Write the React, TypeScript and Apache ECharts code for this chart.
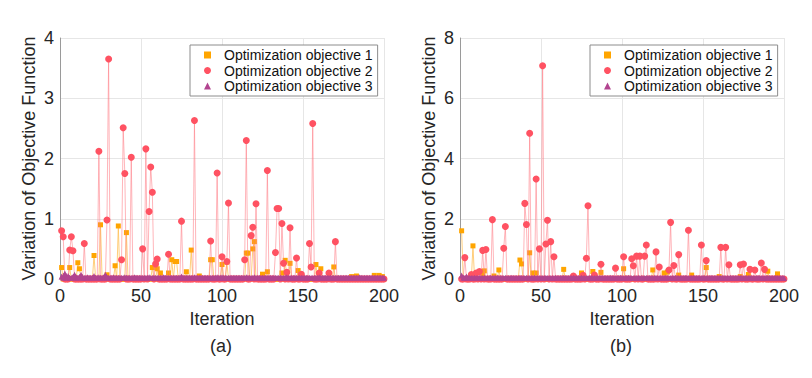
import React, { useEffect, useRef } from "react";
import * as echarts from "echarts";

const iterations: number[] = Array.from({ length: 200 }, (_, i) => i + 1);
const seriesNames = ["Optimization objective 1", "Optimization objective 2", "Optimization objective 3"];
const xTicks = [0, 50, 100, 150, 200];
const panelLabels = ["(a)", "(b)"];
const yMaxA = 4;
const yMaxB = 8;

// Panel (a)
const aObj1 = [
  0.19, 0, 0, 0, 0, 0.19, 0, 0, 0, 0,
  0.27, 0.17, 0, 0, 0, 0, 0, 0, 0, 0,
  0.39, 0, 0, 0, 0.90, 0, 0, 0, 0.07, 0,
  0, 0, 0, 0.22, 0, 0.88, 0, 0, 0, 0,
  0.77, 0, 0, 0, 0, 0, 0, 0, 0, 0,
  0, 0, 0, 0, 0, 0, 0.19, 0, 0, 0.17,
  0, 0.10, 0, 0, 0, 0, 0.10, 0, 0.32, 0,
  0.29, 0.29, 0, 0, 0, 0, 0, 0.12, 0, 0,
  0.48, 0, 0, 0, 0, 0.05, 0, 0, 0, 0,
  0, 0, 0.32, 0.32, 0, 0, 0, 0, 0, 0.24,
  0, 0, 0.28, 0, 0, 0, 0, 0, 0, 0,
  0, 0, 0, 0, 0.43, 0.43, 0, 0, 0.50, 0.62,
  0, 0, 0, 0, 0.08, 0, 0, 0.12, 0, 0,
  0, 0, 0, 0, 0, 0, 0.10, 0, 0.31, 0,
  0, 0.26, 0, 0, 0, 0, 0.14, 0, 0, 0,
  0, 0, 0, 0, 0, 0, 0, 0.24, 0, 0,
  0.17, 0, 0, 0, 0, 0, 0, 0, 0.20, 0,
  0, 0, 0, 0, 0, 0, 0, 0, 0, 0.04,
  0, 0, 0.05, 0, 0, 0, 0, 0, 0, 0,
  0, 0, 0, 0.06, 0, 0, 0.06, 0, 0.04, 0,
];
const aObj2 = [
  0.80, 0.70, 0, 0, 0, 0.48, 0.70, 0.47, 0, 0,
  0, 0, 0, 0, 0.59, 0, 0, 0, 0, 0,
  0, 0, 0, 2.12, 0, 0, 0, 0, 0.98, 3.65,
  0, 0, 0, 0, 0, 0, 0, 0.32, 2.51, 1.75,
  0, 0, 0, 2.02, 0, 0, 0, 0, 0, 0,
  0.50, 0, 2.16, 0, 1.12, 1.86, 1.44, 0, 0.25, 0.33,
  0, 0, 0, 0, 0, 0, 0.41, 0, 0, 0,
  0, 0, 0, 0, 0.96, 0, 0, 0, 0, 0,
  0, 0, 2.63, 0, 0, 0, 0, 0, 0, 0,
  0, 0, 0.63, 0, 0, 0, 1.76, 0, 0, 0.37,
  0, 0, 0.29, 1.26, 0, 0, 0, 0, 0, 0,
  0, 0, 0, 0.32, 2.30, 0, 0, 0.72, 0.86, 0,
  1.25, 0, 0, 0, 0, 0, 0, 1.80, 0, 0,
  0, 0, 0.44, 1.17, 1.17, 0, 0.92, 0.26, 0, 0.11,
  0, 0.85, 0, 0, 0, 0.35, 0, 0, 0.08, 0,
  0, 0, 0, 0.59, 0.20, 2.58, 0, 0, 0, 0.10,
  0, 0, 0, 0, 0, 0.10, 0, 0, 0, 0.62,
  0, 0, 0, 0, 0, 0, 0, 0, 0, 0,
  0, 0, 0, 0, 0, 0, 0, 0, 0, 0,
  0, 0, 0, 0, 0, 0, 0, 0, 0, 0,
];
const aObj3 = [
  0.04, 0.02, 0.09, 0.02, 0.05, 0.02, 0.02, 0.03, 0.07, 0.02,
  0.02, 0.03, 0.07, 0.02, 0.02, 0.02, 0.03, 0.02, 0.02, 0.02,
  0.05, 0.02, 0.02, 0.03, 0.02, 0.02, 0.02, 0.07, 0.02, 0.02,
  0.02, 0.02, 0.03, 0.02, 0.02, 0.02, 0.02, 0.02, 0.02, 0.03,
  0.02, 0.02, 0.02, 0.02, 0.02, 0.03, 0.02, 0.02, 0.02, 0.02,
  0.02, 0.02, 0.02, 0.02, 0.03, 0.02, 0.02, 0.02, 0.02, 0.02,
  0.02, 0.02, 0.02, 0.03, 0.02, 0.02, 0.02, 0.02, 0.02, 0.02,
  0.02, 0.02, 0.02, 0.02, 0.04, 0.02, 0.02, 0.02, 0.02, 0.02,
  0.02, 0.02, 0.03, 0.02, 0.02, 0.02, 0.02, 0.02, 0.02, 0.02,
  0.02, 0.02, 0.02, 0.02, 0.02, 0.02, 0.03, 0.02, 0.02, 0.03,
  0.02, 0.02, 0.02, 0.02, 0.02, 0.02, 0.02, 0.02, 0.02, 0.02,
  0.02, 0.02, 0.02, 0.02, 0.03, 0.02, 0.02, 0.02, 0.02, 0.03,
  0.02, 0.02, 0.02, 0.02, 0.02, 0.02, 0.02, 0.02, 0.02, 0.02,
  0.02, 0.02, 0.02, 0.02, 0.02, 0.02, 0.02, 0.02, 0.02, 0.03,
  0.02, 0.02, 0.02, 0.02, 0.02, 0.02, 0.02, 0.02, 0.02, 0.02,
  0.02, 0.02, 0.02, 0.02, 0.02, 0.02, 0.02, 0.02, 0.02, 0.03,
  0.02, 0.02, 0.02, 0.02, 0.02, 0.02, 0.02, 0.02, 0.02, 0.02,
  0.02, 0.02, 0.02, 0.02, 0.02, 0.02, 0.02, 0.02, 0.02, 0.02,
  0.02, 0.02, 0.02, 0.02, 0.03, 0.02, 0.02, 0.02, 0.02, 0.02,
  0.02, 0.02, 0.02, 0.02, 0.02, 0.02, 0.02, 0.02, 0.02, 0.02,
];

// Panel (b)
const bObj1 = [
  1.60, 0, 0, 0, 0, 0, 0, 1.10, 0, 0,
  0, 0, 0, 0.18, 0.27, 0, 0, 0, 0, 0,
  0.10, 0, 0, 0.30, 0, 0, 0, 0, 0, 0,
  0, 0, 0, 0, 0, 0, 0.63, 0.50, 0, 0,
  0, 0, 0.87, 0, 0.20, 0, 0.20, 0, 0, 0,
  0, 0, 0, 0, 0, 0, 0, 0, 0, 0,
  0, 0, 0, 0.32, 0, 0, 0, 0, 0, 0,
  0, 0, 0, 0, 0.20, 0, 0, 0, 0, 0,
  0, 0.25, 0, 0, 0, 0, 0.22, 0, 0, 0,
  0, 0, 0, 0, 0, 0, 0, 0, 0, 0,
  0.34, 0, 0, 0, 0, 0, 0, 0, 0, 0,
  0, 0, 0, 0, 0, 0, 0, 0, 0.30, 0,
  0, 0, 0, 0, 0, 0.20, 0, 0.23, 0, 0,
  0, 0, 0, 0, 0.13, 0, 0, 0, 0, 0,
  0, 0, 0.13, 0, 0, 0, 0, 0, 0, 0,
  0, 0.38, 0, 0, 0, 0, 0, 0, 0, 0.08,
  0, 0, 0, 0, 0, 0, 0, 0, 0, 0,
  0, 0, 0.08, 0, 0, 0, 0, 0.15, 0, 0,
  0, 0, 0, 0, 0, 0, 0, 0, 0, 0.26,
  0, 0, 0, 0, 0, 0.17, 0, 0, 0, 0,
];
const bObj2 = [
  0, 0, 0.71, 0, 0, 0, 0.15, 0, 0, 0.20,
  0, 0.25, 0, 0.95, 0, 0.98, 0, 0, 0, 1.97,
  0, 0, 0, 0, 0, 0, 1.02, 1.74, 0, 0,
  0, 0, 0, 0, 0, 0, 0, 0, 0, 2.51,
  1.81, 0, 4.84, 0, 0, 0, 3.32, 0, 1.00, 0,
  7.08, 0, 1.16, 1.95, 0, 1.24, 0, 0.74, 0, 0,
  0, 0, 0, 0, 0, 0, 0, 0, 0, 0.10,
  0, 0, 0, 0, 0, 0.12, 0, 0.69, 2.43, 0,
  0, 0, 0.13, 0, 0, 0, 0.49, 0, 0, 0,
  0, 0, 0, 0, 0, 0.36, 0, 0, 0, 0,
  0.74, 0, 0, 0, 0, 0.67, 0.44, 0, 0.76, 0,
  0.76, 0, 0, 0.76, 1.13, 0, 0, 0, 0, 0,
  0.90, 0, 0.40, 0, 0, 0, 0, 0, 0.30, 1.88,
  0, 0.45, 0, 0, 0.81, 0, 0, 0, 0, 0,
  1.62, 0, 0, 0, 0, 0, 0, 0, 1.13, 0,
  0, 0.61, 0, 0, 0, 0, 0, 0, 0, 0,
  1.05, 0, 0, 1.05, 0, 0.47, 0, 0, 0, 0,
  0, 0, 0.47, 0, 0.50, 0, 0, 0, 0.32, 0,
  0, 0.30, 0, 0, 0, 0.53, 0, 0.32, 0, 0,
  0, 0, 0, 0, 0, 0, 0, 0, 0, 0,
];
const bObj3 = [
  0.12, 0.04, 0.03, 0.08, 0.03, 0.04, 0.03, 0.03, 0.04, 0.03,
  0.03, 0.04, 0.03, 0.03, 0.04, 0.03, 0.03, 0.03, 0.04, 0.03,
  0.03, 0.03, 0.04, 0.03, 0.03, 0.03, 0.03, 0.04, 0.03, 0.03,
  0.03, 0.04, 0.03, 0.03, 0.03, 0.03, 0.04, 0.03, 0.03, 0.03,
  0.04, 0.03, 0.03, 0.03, 0.03, 0.04, 0.03, 0.03, 0.03, 0.03,
  0.03, 0.03, 0.04, 0.03, 0.03, 0.03, 0.03, 0.03, 0.04, 0.03,
  0.03, 0.03, 0.03, 0.04, 0.03, 0.03, 0.03, 0.03, 0.03, 0.04,
  0.03, 0.03, 0.03, 0.03, 0.04, 0.03, 0.03, 0.03, 0.03, 0.03,
  0.04, 0.03, 0.03, 0.03, 0.03, 0.03, 0.04, 0.03, 0.03, 0.03,
  0.03, 0.03, 0.04, 0.03, 0.03, 0.03, 0.03, 0.03, 0.04, 0.03,
  0.03, 0.03, 0.03, 0.04, 0.03, 0.03, 0.03, 0.03, 0.03, 0.04,
  0.03, 0.03, 0.03, 0.03, 0.04, 0.03, 0.03, 0.03, 0.03, 0.03,
  0.04, 0.03, 0.03, 0.03, 0.03, 0.03, 0.04, 0.03, 0.03, 0.03,
  0.03, 0.03, 0.04, 0.03, 0.03, 0.03, 0.03, 0.03, 0.04, 0.03,
  0.03, 0.03, 0.03, 0.04, 0.03, 0.03, 0.03, 0.03, 0.03, 0.04,
  0.03, 0.03, 0.03, 0.03, 0.04, 0.03, 0.03, 0.03, 0.03, 0.03,
  0.04, 0.03, 0.03, 0.03, 0.03, 0.03, 0.04, 0.03, 0.03, 0.03,
  0.03, 0.03, 0.04, 0.03, 0.03, 0.03, 0.03, 0.03, 0.04, 0.03,
  0.03, 0.03, 0.03, 0.04, 0.03, 0.03, 0.03, 0.03, 0.03, 0.04,
  0.03, 0.03, 0.03, 0.03, 0.04, 0.03, 0.03, 0.03, 0.03, 0.03,
];

const FONT = "'Liberation Sans', Arial, Helvetica, sans-serif";
const TEXT = "#262626";
const markerColors = ["#FFA500", "#FF5262", "#B2448F"];
const lineColors = ["rgba(255,190,80,0.75)", "rgba(255,120,130,0.55)", "#B2448F"];
const lineWidths = [1, 1, 3];
const symbols = ["rect", "circle", "triangle"];
const symbolSizes = [5, 7, 6];

function pairs(vals: number[]) {
  return iterations.map((it, i) => [it, vals[i]]);
}

export default function App() {
  const ref = useRef<HTMLDivElement>(null);
  useEffect(() => {
    if (!ref.current) return;
    const chart = echarts.init(ref.current, undefined, { renderer: "svg" });
    const panels = [
      { data: [aObj1, aObj2, aObj3], yMax: yMaxA, yInt: 1, left: 60 },
      { data: [bObj1, bObj2, bObj3], yMax: yMaxB, yInt: 2, left: 460 },
    ];
    const grid = panels.map((p) => ({ left: p.left, width: 324, top: 38, height: 241 }));
    const xAxis = panels.map((_, gi) => ({
      type: "value",
      gridIndex: gi,
      min: xTicks[0],
      max: xTicks[xTicks.length - 1],
      interval: 50,
      name: "Iteration",
      nameLocation: "middle",
      nameGap: 30,
      nameTextStyle: { fontFamily: FONT, fontSize: 18, color: TEXT },
      axisLine: { show: true, lineStyle: { color: "#9a9a9a", width: 1 } },
      axisTick: { show: false },
      axisLabel: { fontFamily: FONT, fontSize: 18, color: TEXT, margin: 8 },
      splitLine: { show: true, lineStyle: { color: "#e6e6e6", width: 1 } },
    }));
    const yAxis = panels.map((p, gi) => ({
      type: "value",
      gridIndex: gi,
      min: 0,
      max: p.yMax,
      interval: p.yInt,
      name: "Variation of Objective Function",
      nameLocation: "middle",
      nameGap: 22,
      nameTextStyle: { fontFamily: FONT, fontSize: 18, color: TEXT },
      axisLine: { show: true, lineStyle: { color: "#9a9a9a", width: 1 } },
      axisTick: { show: false },
      axisLabel: { fontFamily: FONT, fontSize: 18, color: TEXT, margin: 6 },
      splitLine: { show: true, lineStyle: { color: "#e6e6e6", width: 1 } },
    }));
    const series: any[] = [];
    panels.forEach((p, gi) => {
      p.data.forEach((vals, si) => {
        series.push({
          type: "line",
          name: seriesNames[si],
          xAxisIndex: gi,
          yAxisIndex: gi,
          data: pairs(vals),
          symbol: symbols[si],
          symbolSize: symbolSizes[si],
          showSymbol: true,
          showAllSymbol: true,
          itemStyle: { color: markerColors[si] },
          lineStyle: { color: lineColors[si], width: lineWidths[si] },
          emphasis: { disabled: true },
          z: 2 + si,
        });
      });
    });
    const legend = panels.map((p) => ({
      orient: "vertical",
      left: p.left + 130,
      top: 45,
      padding: [3, 5, 3, 14],
      itemGap: 1.5,
      itemWidth: 7,
      itemHeight: 7,
      borderColor: "#8c8c8c",
      borderWidth: 1,
      backgroundColor: "#ffffff",
      selectedMode: false,
      textStyle: { fontFamily: FONT, fontSize: 14, color: "#111", padding: [0, 0, 0, 8] },
      data: seriesNames.map((n, i) => ({ name: n, icon: symbols[i], itemStyle: { color: markerColors[i] } })),
    }));
    const graphic = panelLabels.map((t, i) => ({
      type: "text",
      left: panels[i].left + 162 - 12,
      top: 337,
      style: { text: t, fontFamily: FONT, fontSize: 18, fill: TEXT },
    }));
    chart.setOption({
      animation: false,
      backgroundColor: "#ffffff",
      grid,
      xAxis,
      yAxis,
      series,
      legend,
      graphic,
    } as any);
    return () => chart.dispose();
  }, []);
  return <div ref={ref} style={{ position: "absolute", left: 0, top: 0, width: 812, height: 378 }} />;
}
